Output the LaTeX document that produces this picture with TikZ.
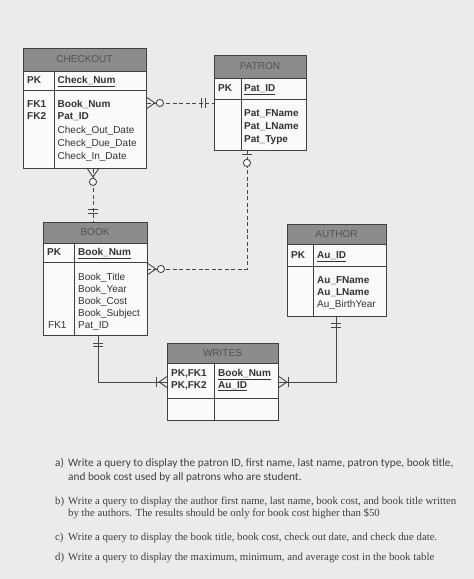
\documentclass[tikz,border=0pt]{standalone}
\usepackage{fontspec}
\setmainfont{Liberation Serif}
\newfontfamily\tabfont{Liberation Sans}
\newfontfamily\calfont{Carlito}
\usetikzlibrary{positioning}

\tikzset{
  tbl/.style={draw=black!75, line width=0.9pt, fill=black!2, anchor=north west, inner sep=0pt},
  hdr/.style={draw=black!75, line width=0.9pt, fill=black!45},
  tln/.style={draw=black!75, line width=0.9pt},
  ttl/.style={font=\tabfont\fontsize{10}{12}\selectfont, text=black!68, inner sep=0pt},
  fld/.style={font=\tabfont\fontsize{10}{12}\selectfont, text=black!80, anchor=base west, inner sep=0pt},
  key/.style={fld, font=\tabfont\fontsize{10}{12}\selectfont\bfseries},
  rel/.style={draw=black!72, line width=0.9pt},
  dsh/.style={dash pattern=on 4pt off 2.5pt},
  qtxt/.style={text=black!75, anchor=base west, inner sep=0pt},
  qsans/.style={qtxt, font=\calfont\fontsize{11.3}{13}\selectfont},
  qserif/.style={qtxt, font=\fontsize{10.8}{13}\selectfont},
  pics/many/.style={code={\draw[solid] (0,-5.5) -- (8,0) -- (0,5.5);}},
  pics/ring/.style={code={\draw[solid, fill=white] (#1,0) circle (3.6);}},
  pics/bar/.style={code={\draw[solid] (#1,-5) -- (#1,5);}},
}

\begin{document}
\begin{tikzpicture}[x=1pt, y=-1pt]
  \useasboundingbox[fill=black!8] (0,0) rectangle (474,579);

  %%%%% CHECKOUT %%%%%
  \node[tbl, minimum width=123, minimum height=120] (checkout) at (23,48) {};
  \draw[hdr] (checkout.north west) rectangle (checkout.east |- 0,71);
  \draw[tln] (23,90) -- (146,90);
  \draw[tln] (54,71) -- (54,168);
  \node[ttl] (checkout-h) at (84.5,59.5) {CHECKOUT};
  \node[key] (checkout-pk) at (27,83.6) {PK};
  \node[key] (checkout-id) at (57.5,83.6) {\underline{Check\_Num}};
  \node[key] (checkout-fk1) at (27,107) {FK1};
  \node[key] (checkout-fk2) at (27,119.5) {FK2};
  \node[key] (checkout-a1) at (57.5,107) {Book\_Num};
  \node[key] (checkout-a2) at (57.5,119.5) {Pat\_ID};
  \node[fld] (checkout-a3) at (57.5,133.5) {Check\_Out\_Date};
  \node[fld] (checkout-a4) at (57.5,146.5) {Check\_Due\_Date};
  \node[fld] (checkout-a5) at (57.5,159.5) {Check\_In\_Date};

  %%%%% PATRON %%%%%
  \node[tbl, minimum width=92, minimum height=95] (patron) at (214,55) {};
  \draw[hdr] (patron.north west) rectangle (patron.east |- 0,78);
  \draw[tln] (214,99) -- (306,99);
  \draw[tln] (241,78) -- (241,150);
  \node[ttl] (patron-h) at (260,66.5) {PATRON};
  \node[key] (patron-pk) at (218,91.5) {PK};
  \node[key] (patron-id) at (244,91.5) {\underline{Pat\_ID}};
  \node[key] (patron-a1) at (244,116.5) {Pat\_FName};
  \node[key] (patron-a2) at (244,129.5) {Pat\_LName};
  \node[key] (patron-a3) at (244,142.5) {Pat\_Type};

  %%%%% BOOK %%%%%
  \node[tbl, minimum width=104, minimum height=113] (book) at (43,222) {};
  \draw[hdr] (book.north west) rectangle (book.east |- 0,243);
  \draw[tln] (43,262) -- (147,262);
  \draw[tln] (74,243) -- (74,335);
  \node[ttl] (book-h) at (95,232.5) {BOOK};
  \node[key] (book-pk) at (47,255.5) {PK};
  \node[key] (book-id) at (78,255.5) {\underline{Book\_Num}};
  \node[fld] (book-a1) at (78,280.5) {Book\_Title};
  \node[fld] (book-a2) at (78,292.5) {Book\_Year};
  \node[fld] (book-a3) at (78,304.5) {Book\_Cost};
  \node[fld] (book-a4) at (78,316.5) {Book\_Subject};
  \node[fld] (book-fk1) at (48,328.5) {FK1};
  \node[fld] (book-a5) at (78,328.5) {Pat\_ID};

  %%%%% AUTHOR %%%%%
  \node[tbl, minimum width=99, minimum height=92] (author) at (287,224) {};
  \draw[hdr] (author.north west) rectangle (author.east |- 0,244);
  \draw[tln] (287,266) -- (386,266);
  \draw[tln] (313,244) -- (313,316);
  \node[ttl] (author-h) at (336.5,234.5) {AUTHOR};
  \node[key] (author-pk) at (291,258.5) {PK};
  \node[key] (author-id) at (317,258.5) {\underline{Au\_ID}};
  \node[key] (author-a1) at (317,283.5) {Au\_FName};
  \node[key] (author-a2) at (317,295.5) {Au\_LName};
  \node[fld] (author-a3) at (317,307.5) {Au\_BirthYear};

  %%%%% WRITES %%%%%
  \node[tbl, minimum width=111, minimum height=77] (writes) at (167,343) {};
  \draw[hdr] (writes.north west) rectangle (writes.east |- 0,363);
  \draw[tln] (167,398) -- (278,398);
  \draw[tln] (214,363) -- (214,420);
  \node[ttl] (writes-h) at (222.5,353) {WRITES};
  \node[key] (writes-pk1) at (171,376.5) {PK,FK1};
  \node[key] (writes-pk2) at (171,388) {PK,FK2};
  \node[key] (writes-id1) at (218,376.5) {\underline{Book\_Num}};
  \node[key] (writes-id2) at (218,388) {\underline{Au\_ID}};

  %%%%% RELATIONSHIPS %%%%%
  \draw[rel, dsh] (checkout.east |- 0,103) -- (patron.west |- 0,103);
  \pic[rel] at (checkout.east |- 0,103) {many};
  \pic[rel] at (checkout.east |- 0,103) {ring=13};
  \pic[rel, rotate=180] at (patron.west |- 0,103) {bar=9};
  \pic[rel, rotate=180] at (patron.west |- 0,103) {bar=13};

  \draw[rel, dsh] (checkout.south -| 93,0) -- (book.north -| 93,0);
  \pic[rel, rotate=-90] at (checkout.south -| 93,0) {many};
  \pic[rel, rotate=-90] at (checkout.south -| 93,0) {ring=13};
  \pic[rel, rotate=90] at (book.north -| 93,0) {bar=9};
  \pic[rel, rotate=90] at (book.north -| 93,0) {bar=13};

  \draw[rel, dsh] (patron.south -| 247,0) |- (book.east |- 0,269);
  \pic[rel, rotate=-90] at (patron.south -| 247,0) {bar=4};
  \pic[rel, rotate=-90] at (patron.south -| 247,0) {ring=12};
  \pic[rel] at (book.east |- 0,269) {many};
  \pic[rel] at (book.east |- 0,269) {ring=13};

  \draw[rel] (book.south -| 98,0) |- (writes.west |- 0,382);
  \pic[rel, rotate=-90] at (book.south -| 98,0) {bar=8};
  \pic[rel, rotate=-90] at (book.south -| 98,0) {bar=11};
  \pic[rel, rotate=180] at (writes.west |- 0,382) {many};
  \pic[rel, rotate=180] at (writes.west |- 0,382) {bar=11};

  \draw[rel] (author.south -| 336,0) |- (writes.east |- 0,382);
  \pic[rel, rotate=-90] at (author.south -| 336,0) {bar=7};
  \pic[rel, rotate=-90] at (author.south -| 336,0) {bar=11};
  \pic[rel] at (writes.east |- 0,382) {many};
  \pic[rel] at (writes.east |- 0,382) {bar=10};

  %%%%% QUESTIONS %%%%%
  \node[qsans] (qa-l) at (55,466.5) {a)};
  \node[qsans] (qa) at (68,466.5) {Write a query to display the patron ID, first name, last name, patron type, book title,};
  \node[qsans] (qa2) at (68,480) {and book cost used by all patrons who are student.};
  \node[qserif] (qb-l) at (55,504.5) {b)};
  \node[qserif] (qb) at (68,504.5) {Write a query to display the author first name, last name, book cost, and book title written};
  \node[qserif] (qb2) at (68,516.8) {by the authors. The results should be only for book cost higher than \$50};
  \node[qserif] (qc-l) at (55,540.2) {c)};
  \node[qserif] (qc) at (68,540.2) {Write a query to display the book title, book cost, check out date, and check due date.};
  \node[qserif] (qd-l) at (55,560.2) {d)};
  \node[qserif] (qd) at (68,560.2) {Write a query to display the maximum, minimum, and average cost in the book table};
\end{tikzpicture}
\end{document}
